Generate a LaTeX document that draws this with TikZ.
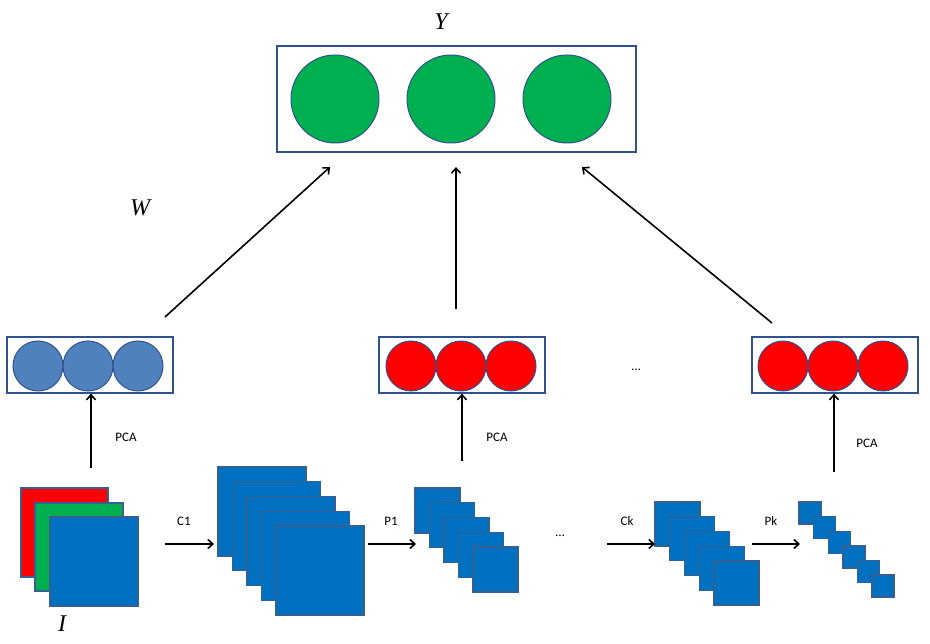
\documentclass[tikz,border=0pt]{standalone}
\usepackage{fontspec}
\setmainfont{Liberation Serif}
\newfontfamily\lab{Carlito}
\begin{document}
\begin{tikzpicture}[x=1pt,y=-1pt,
 sq/.style={draw=sqb,line width=1.4pt,fill=#1},
 box/.style={draw=bxb,line width=1.3pt,fill=white},
 circ/.style={draw=bxb,line width=1pt,fill=#1},
 arr/.style={-{Straight Barb[length=5pt,width=9pt]},line width=1.6pt},
 lbl/.style={font=\lab\fontsize{13}{13}\selectfont},
 mth/.style={font=\fontsize{24}{24}\selectfont\itshape}]
\usetikzlibrary{arrows.meta}
\definecolor{sqb}{RGB}{54,96,146}\definecolor{bxb}{RGB}{47,82,143}
\definecolor{sblue}{RGB}{0,112,192}\definecolor{sred}{RGB}{255,0,0}
\definecolor{sgreen}{RGB}{0,176,80}\definecolor{cblue}{RGB}{79,129,189}
\useasboundingbox (0,0) rectangle (930,644);
% input stack
\draw[sq=sred] (21,488) rectangle (108,577);
\draw[sq=sgreen] (35,503) rectangle (123,591);
\draw[sq=sblue] (50,517) rectangle (138,606);
\node[mth] (I) at (62,624) {I};
% C1
\foreach \i in {0,...,4}{\draw[sq=sblue] (218+14.5*\i,467+14.75*\i) rectangle ++(88,89);}
\foreach \i in {0,...,4}{\draw[sq=sblue] (415+14.5*\i,488+14.75*\i) rectangle ++(45,45);}
\foreach \i in {0,...,4}{\draw[sq=sblue] (655+14.75*\i,502+14.75*\i) rectangle ++(45,44);}
\foreach \i in {0,...,5}{\draw[sq=sblue] (799+14.6*\i,502+14.6*\i) rectangle ++(22,22);}
% horizontal arrows
\coordinate (a1) at (165,544);\coordinate (b1) at (214,544);
\coordinate (a2) at (368,544);\coordinate (b2) at (416,544);
\coordinate (a3) at (607,544);\coordinate (b3) at (655,544);
\coordinate (a4) at (752,544);\coordinate (b4) at (800,544);
\draw[arr] (a1)--(b1);\draw[arr] (a2)--(b2);\draw[arr] (a3)--(b3);\draw[arr] (a4)--(b4);
\node[lbl] (c1) at (184,521) {C1};\node[lbl] (p1) at (391,521) {P1};
\node[lbl] (ck) at (627,521) {Ck};\node[lbl] (pk) at (771,521) {Pk};
\node[lbl] (d1) at (560,536) {\ldots};\node[lbl] (d2) at (636,370) {\ldots};
% small boxes
\node[box,minimum width=166pt,minimum height=56pt] (B1) at (90,365) {};
\node[box,minimum width=166pt,minimum height=56pt] (B2) at (462,365) {};
\node[box,minimum width=166pt,minimum height=56pt] (B3) at (835,365) {};
\foreach \x in {38,88,138}{\draw[circ=cblue] (\x,366) circle (25);}
\foreach \x in {411,461,511,783,833,883}{\draw[circ=sred] (\x,366) circle (25);}
% PCA arrows
\coordinate (q1) at (91,468);\coordinate (q2) at (462,461);\coordinate (q3) at (834,472);
\draw[arr] (q1)--(B1.south -| q1);\draw[arr] (q2)--(B2.south -| q2);\draw[arr] (q3)--(B3.south -| q3);
\node[lbl] (l1) at (126,437) {PCA};\node[lbl] (l2) at (497,437) {PCA};\node[lbl] (l3) at (867,443) {PCA};
% top
\node[box,minimum width=359pt,minimum height=106pt] (T) at (456.5,99) {};
\foreach \x in {335,451,567}{\draw[circ=sgreen] (\x,99) circle (44);}
\node[mth] (Y) at (441,22) {Y};\node[mth] (W) at (140,208) {W};
\coordinate (t1) at (330,167);\coordinate (t2) at (456,167);\coordinate (t3) at (582,167);
\coordinate (s1) at (165,317);\coordinate (s2) at (456,309);\coordinate (s3) at (772,323);
\draw[arr] (s1)--(t1);\draw[arr] (s2)--(t2);\draw[arr] (s3)--(t3);
\end{tikzpicture}
\end{document}
